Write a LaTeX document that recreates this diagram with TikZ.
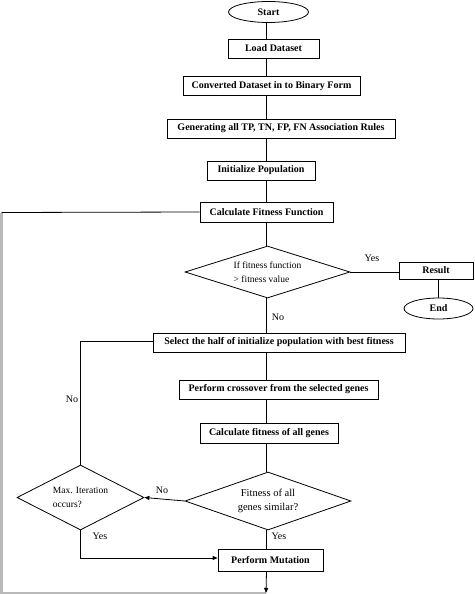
\documentclass[tikz,border=0pt]{standalone}
\usepackage{fontspec}
\setmainfont{Liberation Serif}
\usetikzlibrary{arrows.meta,shapes.geometric}

\begin{document}
\begin{tikzpicture}[
        x=1pt, y=-1pt,
        proc/.style={draw, line width=0.8pt, minimum height=19pt, inner sep=2pt,
                     font=\fontsize{10}{12}\selectfont\bfseries},
        term/.style={draw, ellipse, line width=0.8pt, minimum height=21pt, inner sep=1pt,
                     font=\fontsize{10}{12}\selectfont\bfseries},
        dec/.style={draw, diamond, aspect=3, inner sep=0pt, line width=0.8pt,
                    font=\fontsize{9.5}{13.5}\selectfont},
        e/.style={line width=0.8pt},
        ea/.style={e, -{Triangle[length=5pt,width=4pt]}},
        lbl/.style={font=\fontsize{10}{11}\selectfont, inner sep=0pt},
        loopln/.style={line width=2.8pt, gray!55}
      ]
        \useasboundingbox (0,0) rectangle (474,594);
        % main column
        \node[term, minimum width=80pt]  (start)  at (268.5,12)  {Start};
        \node[proc, minimum width=91pt]  (load)   at (273.5,48.5) {Load Dataset};
        \node[proc, minimum width=177pt] (conv)   at (271.5,86)  {Converted Dataset in to Binary Form};
        \node[proc, minimum width=228pt] (gen)    at (281,128.5) {Generating all TP, TN, FP, FN Association Rules};
        \node[proc, minimum width=108pt] (init)   at (261,170.5) {Initialize Population};
        \node[proc, minimum width=133pt, minimum height=20pt] (cff) at (266.5,212) {Calculate Fitness Function};
        \node[dec, minimum width=165pt, minimum height=52pt, align=left] (fitchk) at (267.5,272)
             {If fitness function\\> fitness value};
        \node[proc, minimum width=74pt, minimum height=17pt] (result) at (436,270.5) {Result};
        \node[term, minimum width=69pt]  (end)    at (438.5,308.5) {End};
        \node[proc, minimum width=252pt] (select) at (279,342.5) {Select the half of initialize population with best fitness};
        \node[proc, minimum width=199pt] (cross)  at (278.5,389.5) {Perform crossover from the selected genes};
        \node[proc, minimum width=138pt, minimum height=20pt] (calc) at (269,433) {Calculate fitness of all genes};
        \node[dec, minimum width=166pt, minimum height=58pt, align=center,
              font=\fontsize{10.5}{14}\selectfont] (simchk) at (268,501)
             {Fitness of all\\genes similar?};
        \node[dec, aspect=2, minimum width=127pt, minimum height=65pt, align=left] (maxit) at (80.5,497.5)
             {Max. Iteration\\occurs?};
        \node[proc, minimum width=105pt, minimum height=22pt] (mut) at (270.5,560) {Perform Mutation};
        \coordinate (bot) at (266,593);
        \coordinate (bl)  at (1.5,593);
        \coordinate (tl)  at (1.5,212.5);
        % labels
        \node[lbl] (yes1) at (372,258) {Yes};
        \node[lbl] (no1)  at (278,317) {No};
        \node[lbl] (no2)  at (72,399)  {No};
        \node[lbl] (no3)  at (162,490) {No};
        \node[lbl] (yes2) at (100,536) {Yes};
        \node[lbl] (yes3) at (279,536) {Yes};
        % connectors
        \draw[e] (start.south -| cff) -- (load.north -| cff);
        \draw[e] (load.south -| cff) -- (conv.north -| cff);
        \draw[e] (conv.south -| cff) -- (gen.north -| cff);
        \draw[e] (gen.south -| cff) -- (init.north -| cff);
        \draw[e] (init.south -| cff) -- (cff.north);
        \draw[e] (cff.south) -- (fitchk.north -| cff);
        \draw[e] (fitchk.east) -- (fitchk.east -| result.west);
        \draw[e] (end.north |- result.south) -- (end.north);
        \draw[e] (fitchk.south -| cff) -- (select.north -| cff);
        \draw[e] (select.south -| cff) -- (cross.north -| cff);
        \draw[e] (cross.south -| cff) -- (calc.north -| cff);
        \draw[e] (calc.south -| cff) -- (simchk.north -| cff);
        \draw[e] ([yshift=1.5pt]select.west) -| (maxit.north);
        \draw[ea] (simchk.west) -- (maxit.east);
        \draw[ea] (maxit.south) |- ([yshift=2pt]mut.west);
        \draw[e] (simchk.south -| cff) -- (mut.north -| cff);
        \draw[loopln] (bot) -- (bl) -- (tl);
        \draw[e] (tl) -- (cff.west);
        \draw[ea] (mut.south -| cff) -- (bot);
      \end{tikzpicture}
\end{document}
